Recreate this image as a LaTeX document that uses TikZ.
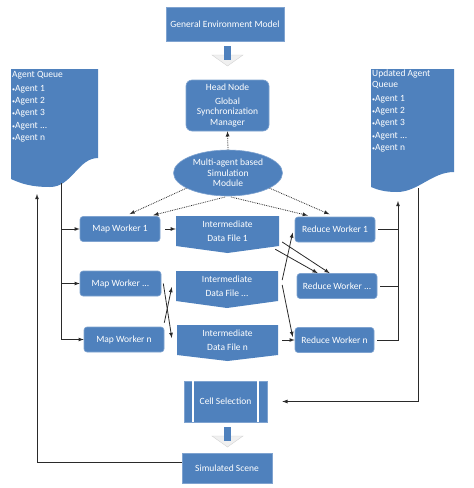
\documentclass[tikz,border=0pt]{standalone}
\usepackage{fontspec}
\setmainfont{Carlito}
\usetikzlibrary{shapes.geometric}
\definecolor{blu}{HTML}{4F81BD}
\definecolor{bordo}{HTML}{7FA3D0}
\definecolor{linea}{HTML}{2A2A2A}
\tikzset{
  blocco/.style={fill=blu, draw=bordo, line width=0.6pt, text=white, align=center, inner sep=0pt},
  worker/.style={blocco, rounded corners=3pt, minimum width=80pt, minimum height=25pt},
  dati/.style={text=white, align=center, minimum width=103pt, minimum height=30pt, inner sep=0pt},
  coda/.style={text=white, align=left, anchor=north west, inner sep=0pt},
  freccia/.style={-latex, draw=linea, line width=0.8pt},
  tratteggio/.style={-latex, draw=linea, densely dotted, line width=0.8pt},
  linea/.style={draw=linea, line width=0.8pt}
}
\newcommand{\pto}{{\fontsize{6}{6}\selectfont•}}
\begin{document}
\begin{tikzpicture}[x=1pt,y=-1pt,font=\fontsize{9.5}{10.5}\selectfont]
\useasboundingbox (0,0) rectangle (474,488);
%modello ambiente
\node[blocco, minimum width=118pt, minimum height=34pt] (gem) at (225,24) {General Environment Model};
%freccia grande 1
\fill[gray!12, draw=gray!35] (212,55) -- (243,55) -- (227.5,66) -- cycle;
\fill[blu] (224,46) rectangle (231,60);
%nodo principale
\node[blocco, rounded corners=6pt, minimum width=83pt, minimum height=51pt] (hn) at (227.5,105.5) {Head Node\\[3.5pt]Global\\Synchronization\\Manager};
%modulo
\node[blocco, ellipse, minimum width=109pt, minimum height=46pt] (mas) at (228,173) {Multi-agent based\\Simulation\\Module};
\draw[tratteggio] (mas.north) -- (hn.south);
%coda agenti
\fill[blu] (11,69) -- (98,69) -- (98,158) .. controls (78,158) and (72,187) .. (50,187) .. controls (32,187) and (22,184) .. (11,179) -- cycle;
\node[coda] (aq) at (12,71) {Agent Queue\\[3.5pt]\pto Agent 1\\[1.8pt]\pto Agent 2\\[1.8pt]\pto Agent 3\\[1.8pt]\pto Agent ...\\[1.8pt]\pto Agent n};
%coda aggiornata
\fill[blu] (371,69) -- (454,69) -- (454,172) .. controls (432,172) and (418,192) .. (397,192) .. controls (385,192) and (378,190) .. (371,187) -- cycle;
\node[coda] (uaq) at (372,70) {Updated Agent\\Queue\\[3.5pt]\pto Agent 1\\[1.8pt]\pto Agent 2\\[1.8pt]\pto Agent 3\\[1.8pt]\pto Agent ...\\[1.8pt]\pto Agent n};
%map
\node[worker] (mw1) at (120,229) {Map Worker 1};
\node[worker, minimum width=81pt] (mw2) at (120.5,283.5) {Map Worker ...};
\node[worker] (mw3) at (124,339.5) {Map Worker n};
%file intermedi
\fill[blu] (176,216) -- (279,216) -- (279,246) -- (227.5,253) -- (176,246) -- cycle;
\node[dati] (d1) at (227.5,231) {Intermediate\\[3.5pt]Data File 1};
\fill[blu] (176,271) -- (278,271) -- (278,301) -- (227,308) -- (176,301) -- cycle;
\node[dati, minimum width=102pt] (d2) at (227,286) {Intermediate\\[3.5pt]Data File ...};
\fill[blu] (177,325) -- (278,325) -- (278,355) -- (227.5,361) -- (177,355) -- cycle;
\node[dati, minimum width=101pt] (d3) at (227.5,340) {Intermediate\\[3.5pt]Data File n};
%reduce
\node[worker] (rw1) at (335,229.5) {Reduce Worker 1};
\node[worker] (rw2) at (337,286) {Reduce Worker ...};
\node[worker, minimum width=79pt] (rw3) at (334.5,340) {Reduce Worker n};
%selezione celle
\node[blocco, minimum width=83pt, minimum height=41pt] (cs) at (225.5,401.5) {Cell Selection};
\draw[white, line width=2.5pt] ([xshift=9.5pt]cs.north west) -- ([xshift=9.5pt]cs.south west);
\draw[white, line width=2.5pt] ([xshift=-9.5pt]cs.north east) -- ([xshift=-9.5pt]cs.south east);
%freccia grande 2
\fill[gray!12, draw=gray!35] (212,436) -- (243,436) -- (227.5,447) -- cycle;
\fill[blu] (224,427) rectangle (231,441);
%scena
\node[blocco, minimum width=90pt, minimum height=30pt] (ss) at (227,468) {Simulated Scene};
%tratteggi
\draw[tratteggio, shorten >=5pt] (mas.200) -- ([xshift=5pt]mw1.north);
\draw[tratteggio, shorten <=3pt, shorten >=4pt] (mas.south) -- ([xshift=-11pt]mw1.north east);
\draw[tratteggio, shorten <=3pt, shorten >=5pt] (mas.south) -- ([xshift=18pt]rw1.north west);
\draw[tratteggio, shorten >=6pt] (mas.340) -- (rw1.north);
%ingresso map
\coordinate (aqout) at (61,183);
\draw[linea] (aqout) -- (aqout |- mw3.west);
\draw[freccia] (aqout |- mw1.west) -- (mw1.west);
\draw[freccia] (aqout |- mw2.west) -- (mw2.west);
\draw[freccia] (aqout |- mw3.west) -- (mw3.west);
%map -> file
\draw[freccia, shorten <=5pt] (mw1.east) -- (mw1.east -| d1.west);
\draw[freccia] ([xshift=2pt]mw2.east) -- ([xshift=-5pt,yshift=2pt]d3.west);
\draw[freccia] ([yshift=4pt]mw3.north east) -- ([xshift=-4pt,yshift=-1pt]d2.west);
%file -> reduce
\draw[freccia] ([xshift=3pt,yshift=-11pt]d1.east) -- ([xshift=33pt]rw2.north west);
\draw[freccia] ([xshift=-4pt,yshift=-3pt]d1.south east) -- ([xshift=21pt]rw2.north west);
\draw[freccia] ([xshift=4pt,yshift=6pt]d2.east) -- ([xshift=-2pt,yshift=-3pt]rw1.west);
\draw[freccia] ([xshift=4pt,yshift=1pt]d2.east) -- ([xshift=-2pt,yshift=3pt]rw3.west);
\draw[freccia, shorten <=4pt] (d3.east) -- (d3.east -| rw3.west);
%uscita reduce
\coordinate (uaqin) at (398,201);
\draw[linea, shorten <=3pt] (rw1.east) -- (rw1.east -| uaqin);
\draw[linea, shorten <=3pt] (rw2.east) -- (rw2.east -| uaqin);
\draw[freccia, shorten <=3pt] (rw3.east) -- (rw3.east -| uaqin) -- (uaqin);
%ritorni
\coordinate (uaqout) at (418,188);
\draw[freccia, shorten >=15pt] (uaqout) |- (cs.east);
\coordinate (aqin) at (37,194);
\draw[freccia] ([yshift=6pt]ss.west) -| (aqin);
\end{tikzpicture}
\end{document}
